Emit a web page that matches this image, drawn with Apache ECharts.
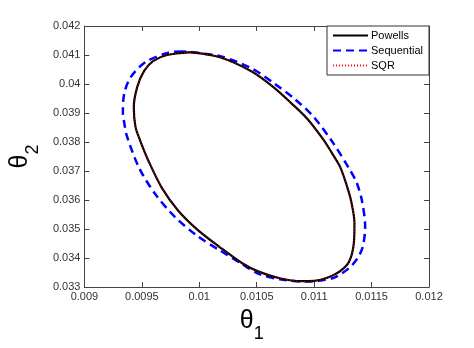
<!DOCTYPE html>
<html><head><meta charset="utf-8">
<script src="https://cdn.jsdelivr.net/npm/echarts@6/dist/echarts.min.js"></script>
<style>html,body{margin:0;padding:0;background:#fff}#c{width:474px;height:348px}</style>
</head><body><div id="c"></div>
<script>
var seriesNames = ['Powells', 'Sequential', 'SQR'];
var xTicks = [0.009, 0.0095, 0.01, 0.0105, 0.011, 0.0115, 0.012];
var yTicks = [0.033, 0.034, 0.035, 0.036, 0.037, 0.038, 0.039, 0.04, 0.041, 0.042];
var powells = [
  [0.009927,0.04110],[0.009720,0.04100],[0.009600,0.04080],[0.009520,0.04045],[0.009460,0.03990],
  [0.009430,0.03920],[0.009444,0.03853],[0.009485,0.03805],[0.009562,0.03731],
  [0.009674,0.03642],[0.009815,0.03564],[0.009983,0.03498],[0.010180,0.03437],
  [0.010377,0.03381],[0.010517,0.03353],[0.010700,0.03330],[0.010880,0.03320],
  [0.011000,0.03321],[0.011107,0.03331],[0.011220,0.03353],[0.011304,0.03387],
  [0.011346,0.03453],[0.011351,0.03520],[0.011320,0.03600],[0.011280,0.03655],
  [0.011225,0.03715],[0.011150,0.03765],[0.011079,0.03809],[0.010938,0.03881],
  [0.010798,0.03935],[0.010658,0.03985],[0.010461,0.04042],[0.010180,0.04092],
  [0.009927,0.04110]
];
var sequential = [
  [0.009850,0.04112],[0.009731,0.04108],[0.009534,0.04076],[0.009400,0.04022],
  [0.009345,0.03964],[0.009335,0.03900],[0.009345,0.03870],[0.009370,0.03820],
  [0.009478,0.03709],[0.009618,0.03620],[0.009787,0.03542],[0.009983,0.03476],
  [0.010180,0.03426],[0.010377,0.03378],[0.010517,0.03345],[0.010700,0.03327],
  [0.010900,0.03319],[0.011050,0.03322],[0.011180,0.03333],[0.011330,0.03375],
  [0.011416,0.03430],[0.011444,0.03509],[0.011416,0.03598],[0.011370,0.03660],
  [0.011304,0.03709],[0.011163,0.03798],[0.010995,0.03887],[0.010826,0.03950],
  [0.010658,0.04000],[0.010461,0.04053],[0.010180,0.04096],[0.009850,0.04112]
];
var sqr = [
  [0.009927,0.04110],[0.009720,0.04100],[0.009600,0.04080],[0.009520,0.04045],[0.009460,0.03990],
  [0.009430,0.03920],[0.009444,0.03853],[0.009485,0.03805],[0.009562,0.03731],
  [0.009674,0.03642],[0.009815,0.03564],[0.009983,0.03498],[0.010180,0.03437],
  [0.010377,0.03381],[0.010517,0.03353],[0.010700,0.03330],[0.010880,0.03320],
  [0.011000,0.03321],[0.011107,0.03331],[0.011220,0.03353],[0.011304,0.03387],
  [0.011346,0.03453],[0.011351,0.03520],[0.011320,0.03600],[0.011280,0.03655],
  [0.011225,0.03715],[0.011150,0.03765],[0.011079,0.03809],[0.010938,0.03881],
  [0.010798,0.03935],[0.010658,0.03985],[0.010461,0.04042],[0.010180,0.04092],
  [0.009927,0.04110]
];

var FONT = 'Liberation Sans';
var AX = '#444';
function fmt(v){ return String(+(+v).toFixed(6)); }
function baseAxis(min, max, interval, pos, showLabels, margin){
  return {
    type: 'value', min: min, max: max, interval: interval, position: pos,
    splitLine: {show: false},
    axisLine: {show: true, onZero: false, lineStyle: {color: AX, width: 1}},
    axisTick: {show: true, inside: true, length: 5, lineStyle: {color: AX}},
    axisLabel: {show: showLabels, margin: margin, fontFamily: FONT, fontSize: 11, color: '#333', formatter: fmt}
  };
}
var nameRich = {
  t: {fontFamily: FONT, fontSize: 25, color: '#000', verticalAlign: 'top', lineHeight: 34},
  s: {fontFamily: FONT, fontSize: 18, color: '#000', verticalAlign: 'bottom', lineHeight: 34}
};
var xMain = baseAxis(xTicks[0], xTicks[xTicks.length-1], 0.0005, 'bottom', true, 4);
xMain.name = '{t|θ}{s|1}';
xMain.nameLocation = 'middle';
xMain.nameGap = 22;
xMain.nameTextStyle = {rich: nameRich, padding: [0, 10, 0, 0]};
var xTop = baseAxis(xTicks[0], xTicks[xTicks.length-1], 0.0005, 'top', false, 4);
var yMain = baseAxis(yTicks[0], yTicks[yTicks.length-1], 0.001, 'left', true, 4);
yMain.name = '{t|θ}{s|2}';
yMain.nameLocation = 'middle';
yMain.nameGap = 40;
yMain.nameTextStyle = {rich: nameRich};
var yRight = baseAxis(yTicks[0], yTicks[yTicks.length-1], 0.001, 'right', false, 4);

var chart = echarts.init(document.getElementById('c'), null, {renderer: 'canvas'});
chart.setOption({
  animation: false,
  backgroundColor: '#fff',
  grid: {left: 73, right: 45, top: 26, bottom: 52, containLabel: false},
  xAxis: [xMain, xTop],
  yAxis: [yMain, yRight],
  legend: {
    orient: 'vertical', right: 45, top: 26,
    backgroundColor: '#fff', borderColor: '#333', borderWidth: 1, borderRadius: 0,
    padding: [4, 6, 4, 5], itemGap: 4, itemWidth: 35, itemHeight: 12,
    itemStyle: {color: 'rgba(0,0,0,0)', borderWidth: 0, borderColor: 'rgba(0,0,0,0)'},
    textStyle: {fontFamily: FONT, fontSize: 11, color: '#000', padding: [0,0,0,-2]},
    data: seriesNames
  },
  series: [
    {name: seriesNames[0], type: 'line', data: powells, smooth: 0.3, symbol: 'none', z: 3,
     lineStyle: {color: '#000', width: 2.2, type: 'solid'}, itemStyle: {color: '#000'}},
    {name: seriesNames[1], type: 'line', data: sequential, smooth: 0.3, symbol: 'none', z: 2,
     lineStyle: {color: '#0000ff', width: 2.5, type: [8, 5]}, itemStyle: {color: '#0000ff'}},
    {name: seriesNames[2], type: 'line', data: sqr, smooth: 0.3, symbol: 'none', z: 4,
     lineStyle: {color: '#ff0000', width: 1, type: [1, 2]}, itemStyle: {color: '#ff0000'}}
  ]
});
</script></body></html>
